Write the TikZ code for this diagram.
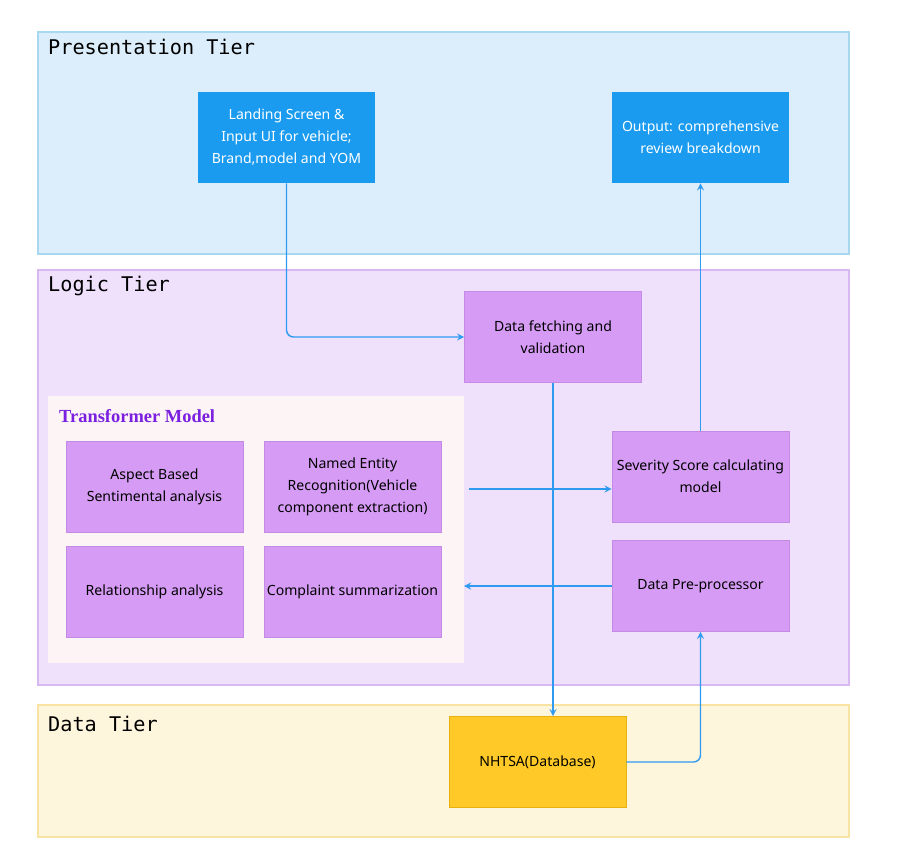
\documentclass[tikz,border=0pt]{standalone}
\usepackage{fontspec}
\setmainfont{Noto Sans}
\newfontfamily\tiermono{DejaVu Sans Mono}
\newfontfamily\tfserif{Liberation Serif}
\usetikzlibrary{calc,positioning}
\definecolor{presfill}{HTML}{DCEEFB}
\definecolor{presline}{HTML}{A8D8F0}
\definecolor{logicfill}{HTML}{EFE0FC}
\definecolor{logicline}{HTML}{D7B8F3}
\definecolor{datafill}{HTML}{FEF5DD}
\definecolor{dataline}{HTML}{F8E3A3}
\definecolor{tffill}{HTML}{FDF5F5}
\definecolor{uiblue}{HTML}{1A9BF0}
\definecolor{procpurple}{HTML}{D69CF5}
\definecolor{procline}{HTML}{C58AE6}
\definecolor{dbyellow}{HTML}{FFCA28}
\definecolor{dbline}{HTML}{E8B010}
\definecolor{flowblue}{HTML}{2E9BF0}
\definecolor{tfpurple}{HTML}{7B1FE0}
\begin{document}
\begin{tikzpicture}[x=0.02cm,y=-0.02cm,>=stealth,
        tier/.style={draw=#1line,fill=#1fill,line width=0.6pt},
        tiertitle/.style={anchor=west,font=\tiermono\fontsize{11.5}{14}\selectfont},
        box/.style={minimum width=3.54cm,minimum height=1.82cm,align=center,
          inner sep=1pt,font=\fontsize{8}{12.5}\selectfont},
        ui/.style={box,fill=uiblue,text=white},
        proc/.style={box,fill=procpurple,draw=procline},
        db/.style={box,fill=dbyellow,draw=dbline},
        flow/.style={->,draw=flowblue,line width=0.8pt,rounded corners=4pt}]
        \useasboundingbox (0,0) rectangle (901,866);
        % tiers
        \draw[tier=pres] (38,32) rectangle (849,254);
        \draw[tier=logic] (38,270) rectangle (849,685);
        \draw[tier=data] (38,705) rectangle (849,837);
        \node[tiertitle] at (42,47) {Presentation Tier};
        \node[tiertitle] at (42,286) {Logic Tier};
        \node[tiertitle] at (42,724) {Data Tier};
        \fill[tffill] (48,396) rectangle (464,663);
        \node[anchor=west,text=tfpurple,font=\tfserif\bfseries\fontsize{10.5}{13}\selectfont] at (53,416) {Transformer Model};
        % nodes
        \node[ui] (landing) at (286.5,137.5) {Landing Screen \&\\Input UI for vehicle;\\Brand,model and YOM};
        \node[ui] (output) at (700.5,137.5) {Output: comprehensive\\review breakdown};
        \node[proc] (fetch) at (553,337) {Data fetching and\\validation};
        \node[proc] (aspect) at (154.5,486.5) {Aspect Based\\Sentimental analysis};
        \node[proc] (ner) at (352.5,486.5) {Named Entity\\Recognition(Vehicle\\component extraction)};
        \node[proc] (relation) at (154.5,592) {Relationship analysis};
        \node[proc] (summary) at (352.5,592) {Complaint summarization};
        \node[proc] (severity) at (700.5,476.5) {Severity Score calculating\\model};
        \node[proc] (prep) at (700.5,586) {Data Pre-processor};
        \node[db] (nhtsa) at (537.5,762) {NHTSA(Database)};
        \coordinate (tfin) at (464,586);
        \coordinate (tfout) at (469,489);
        % connectors
        \draw[flow] (landing.south) |- (fetch.west);
        \draw[flow] (fetch.south) -- (nhtsa.north -| fetch.south);
        \draw[flow] (nhtsa.east) -| (prep.south);
        \draw[flow] (prep.west) -- (tfin);
        \draw[flow] (tfout) -- (severity.west |- tfout);
        \draw[flow] (severity.north) -- (output.south);
\end{tikzpicture}
\end{document}
